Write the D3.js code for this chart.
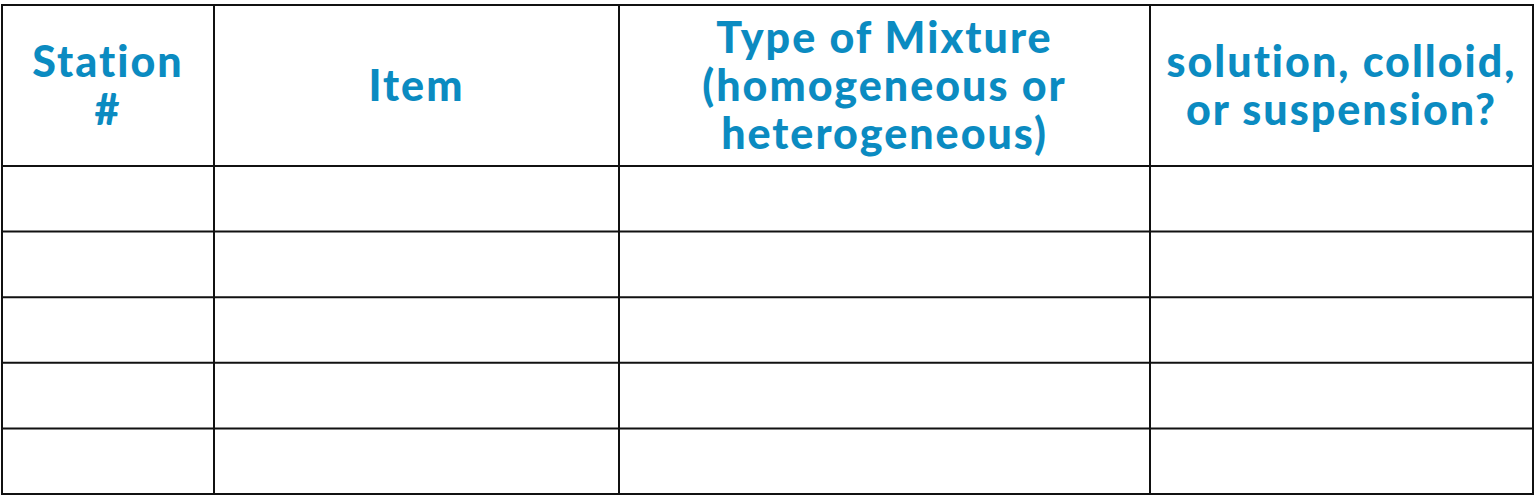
<!DOCTYPE html>
<html>
<head>
<meta charset="utf-8">
<script src="https://cdn.jsdelivr.net/npm/d3@7"></script>
<style>
  html, body { margin: 0; padding: 0; background: #fff; }
</style>
</head>
<body>
<svg id="chart" width="1536" height="497"></svg>
<script>
// table content
const columns = ["station", "item", "mixture", "kind"];
const headerLines = [
  ["Station", "#"],
  ["Item"],
  ["Type of Mixture", "(homogeneous or", "heterogeneous)"],
  ["solution, colloid,", "or suspension?"]
];
const bodyRows = ["1", "2", "3", "4", "5"];

const svg = d3.select("#chart");
const blue = "#0b8bc1";

// column edges in pixels
const colEdges = d3.scaleOrdinal().domain(columns).range([2, 214, 619, 1150]);
const right = 1533;
const colRight = (c, i) => i < columns.length - 1 ? colEdges(columns[i + 1]) : right;

// row positions: header then body rows
const headerTop = 5, headerBottom = 166, bottom = 494;
const y = d3.scaleBand().domain(bodyRows).range([headerBottom, bottom]).padding(0);

const g = svg.append("g");

// outer border
g.append("rect")
  .attr("x", colEdges(columns[0])).attr("y", headerTop)
  .attr("width", right - colEdges(columns[0])).attr("height", bottom - headerTop)
  .attr("fill", "none").attr("stroke", "#111").attr("stroke-width", 2);

// vertical lines
g.selectAll("line.v").data(columns.slice(1)).join("line")
  .attr("class", "v")
  .attr("x1", d => colEdges(d)).attr("x2", d => colEdges(d))
  .attr("y1", headerTop).attr("y2", bottom)
  .attr("stroke", "#111").attr("stroke-width", 2);

// horizontal lines
g.selectAll("line.h").data(bodyRows).join("line")
  .attr("class", "h")
  .attr("x1", colEdges(columns[0])).attr("x2", right)
  .attr("y1", d => y(d)).attr("y2", d => y(d))
  .attr("stroke", "#111").attr("stroke-width", 2);

// header text
const lineH = 48;
const midY = (headerTop + headerBottom) / 2;
columns.forEach((c, i) => {
  const cx = (colEdges(c) + colRight(c, i)) / 2;
  const lines = headerLines[i];
  const t = g.append("text")
    .attr("text-anchor", "middle")
    .attr("font-family", "Lato, 'Open Sans', sans-serif")
    .attr("font-weight", 900)
    .attr("font-size", 43)
    .attr("letter-spacing", 2)
    .attr("fill", blue);
  lines.forEach((l, j) => {
    t.append("tspan")
      .attr("x", cx)
      .attr("y", midY + (j - (lines.length - 1) / 2) * lineH + 15)
      .text(l);
  });
});
</script>
</body>
</html>
